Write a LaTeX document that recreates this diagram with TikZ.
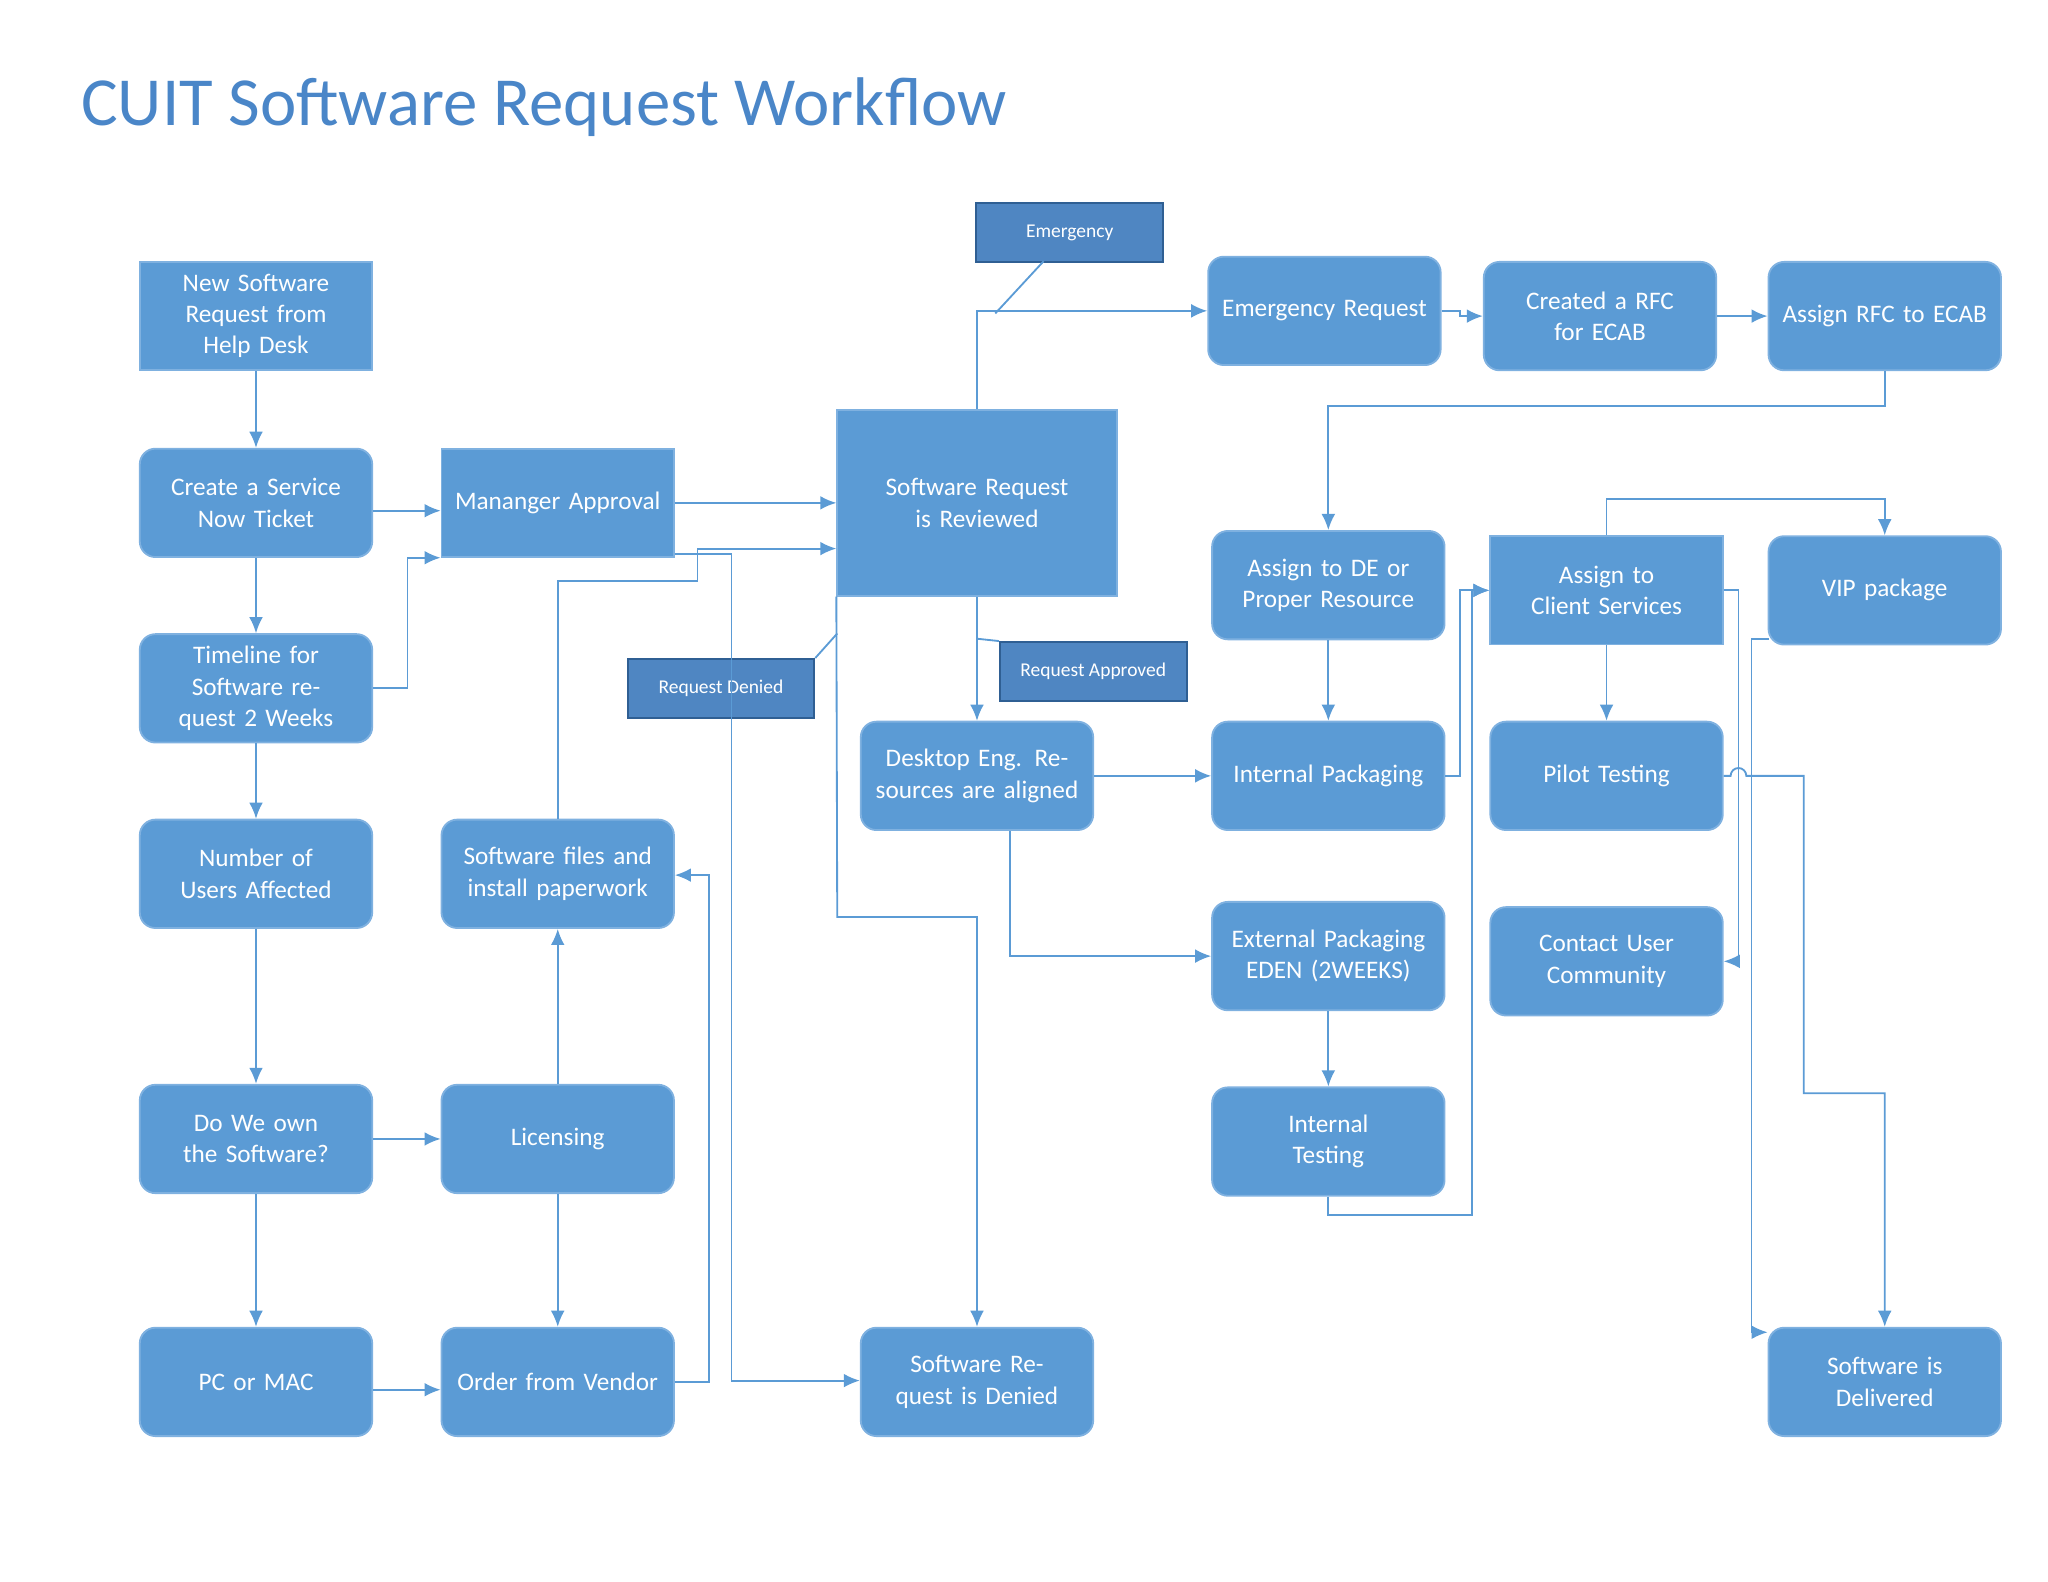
\documentclass[tikz,border=0pt]{standalone}
\usepackage{fontspec}
\setmainfont{Carlito}
\usetikzlibrary{arrows.meta,calc}
\definecolor{boxfill}{HTML}{5B9BD5}
\definecolor{boxedge}{HTML}{7FB1E0}
\definecolor{lblfill}{HTML}{4F86C2}
\definecolor{lbledge}{HTML}{2F5F93}
\definecolor{titlec}{HTML}{4A86C8}
\definecolor{linec}{HTML}{5B9BD5}
\begin{document}
\begin{tikzpicture}[x=0.02cm,y=-0.02cm,
  base/.style={fill=boxfill,draw=boxedge,line width=0.8pt,text=white,align=center,
    minimum width=3.56cm,minimum height=1.66cm,text width=3.2cm,
    font=\fontsize{11}{13.6}\selectfont,inner sep=1pt},
  rbox/.style={base,rounded corners=0.24cm},
  sbox/.style={base},
  lbl/.style={fill=lblfill,draw=lbledge,line width=0.8pt,text=white,align=center,
    minimum width=2.86cm,minimum height=0.9cm,font=\fontsize{8.5}{10}\selectfont},
  conn/.style={draw=linec,line width=0.8pt},
  arr/.style={conn,-{Latex[length=7pt,width=6pt]}}]
\useasboundingbox (0,0) rectangle (1568,1211);
\node[anchor=west,text=titlec,font=\fontsize{30}{34}\selectfont] (title) at (56,82) {CUIT Software Request Workflow};

\node[sbox] (new) at (196,242) {New Software Request from Help Desk};
\node[rbox] (create) at (196,385) {Create a Service Now Ticket};
\node[rbox] (timeline) at (196,527) {Timeline for Software request 2 Weeks};
\node[rbox] (users) at (196,669) {Number of Users Affected};
\node[rbox] (own) at (196,872) {Do We own the Software?};
\node[rbox] (pcmac) at (196,1058) {PC or MAC};
\node[sbox] (manager) at (427,385) {Mananger Approval};
\node[rbox] (swfiles) at (427,669) {Software files and install paperwork};
\node[rbox] (licensing) at (427,872) {Licensing};
\node[rbox] (order) at (427,1058) {Order from Vendor};
\node[sbox,minimum width=4.28cm,minimum height=2.84cm] (reviewed) at (748,385) {Software Request is Reviewed};
\node[rbox] (desktop) at (748,594) {Desktop Eng. Resources are aligned};
\node[rbox] (swdenied) at (748,1058) {Software Request is Denied};
\node[rbox] (emreq) at (1014,238) {Emergency Request};
\node[rbox] (rfc) at (1225,242) {Created a RFC for ECAB};
\node[rbox] (assignrfc) at (1443,242) {Assign RFC to ECAB};
\node[rbox] (assignde) at (1017,448) {Assign to DE or Proper Resource};
\node[rbox] (intpack) at (1017,594) {Internal Packaging};
\node[rbox] (extpack) at (1017,732) {External Packaging EDEN (2WEEKS)};
\node[rbox] (inttest) at (1017,874) {Internal\\Testing};
\node[sbox] (client) at (1230,452) {Assign to Client Services};
\node[rbox] (vip) at (1443,452) {VIP package};
\node[rbox] (pilot) at (1230,594) {Pilot Testing};
\node[rbox] (contact) at (1230,736) {Contact User Community};
\node[rbox] (delivered) at (1443,1058) {Software is Delivered};

\node[lbl] (lemerg) at (819,178) {Emergency};
\node[lbl] (ldenied) at (552,527) {Request Denied};
\node[lbl] (lapproved) at (837,514) {Request Approved};

% left column
\draw[arr] (new) -- (create);
\draw[arr] (create) -- (timeline);
\draw[arr] (timeline) -- (users);
\draw[arr] (users) -- (own);
\draw[arr] (own) -- (pcmac);
\draw[arr] (create.east |- 0,391) -- (manager.west |- 0,391);
\draw[arr] (timeline.east) -- (312,527) -- (312,427) -- (manager.west |- 0,427);
\draw[arr] (manager.east) -- (reviewed.west |- manager.east);
\draw[arr] (own.east) -- (licensing.west);
\draw[arr] (pcmac.east |- 0,1064) -- (order.west |- 0,1064);
\draw[arr] (licensing) -- (order);
\draw[arr] (licensing) -- (swfiles);
\draw[arr] (order.east) -- (543,1058) -- (543,670) -- (swfiles.east |- 0,670);
\draw[arr] (swfiles.north) -- (427,445) -- (534,445) -- (534,420) -- (reviewed.west |- 0,420);
\draw[arr] (manager.east |- 0,424) -- (560,424) -- (560,1057) -- (swdenied.west |- 0,1057);
\draw[arr] (reviewed.south west) -- (641,702) -- (748,702) -- (swdenied.north);
\draw[conn] (ldenied.north east) -- (641,485);

% emergency path
\coordinate (eb) at (748,238);
\draw[arr] (reviewed.north) -- (eb) -- (emreq.west |- eb);
\draw[conn] (799,200) -- (762,240);
\draw[arr] (reviewed.south) -- (desktop.north);
\draw[conn] (lapproved.north west) -- (748,489);
\draw[arr] (emreq.east) -- (1118,238) -- (1118,242) -- (rfc.west);
\draw[arr] (rfc.east) -- (assignrfc.west);
\draw[arr] (assignrfc.south) -- (1443,311) -- (1017,311) -- (assignde.north);
\draw[arr] (assignde) -- (intpack);
\draw[arr] (desktop.east) -- (intpack.west);
\draw[arr] (773,636) -- (773,732) -- (extpack.west);
\draw[arr] (extpack) -- (inttest);
\draw[arr] (intpack.east) -- (1118,594) -- (1118,452) -- (client.west);
\draw[arr] (inttest.south) -- (1017,930) -- (1127,930) -- (1127,452) -- (client.west);
\draw[arr] (client.north) -- (1230,382) -- (1443,382) -- (vip.north);
\draw[arr] (client) -- (pilot);
\draw[arr] (client.east) -- (1331,452) -- (1331,736) -- (contact.east);
\draw[arr] (1354,489) -- (1341,489) -- (1341,1020) -- (delivered.west |- 0,1020);
\draw[arr] (pilot.east) -- (1325,594) arc[start angle=180,end angle=360,radius=6] -- (1381,594) -- (1381,837) -- (1443,837) -- (delivered.north);
\end{tikzpicture}
\end{document}
